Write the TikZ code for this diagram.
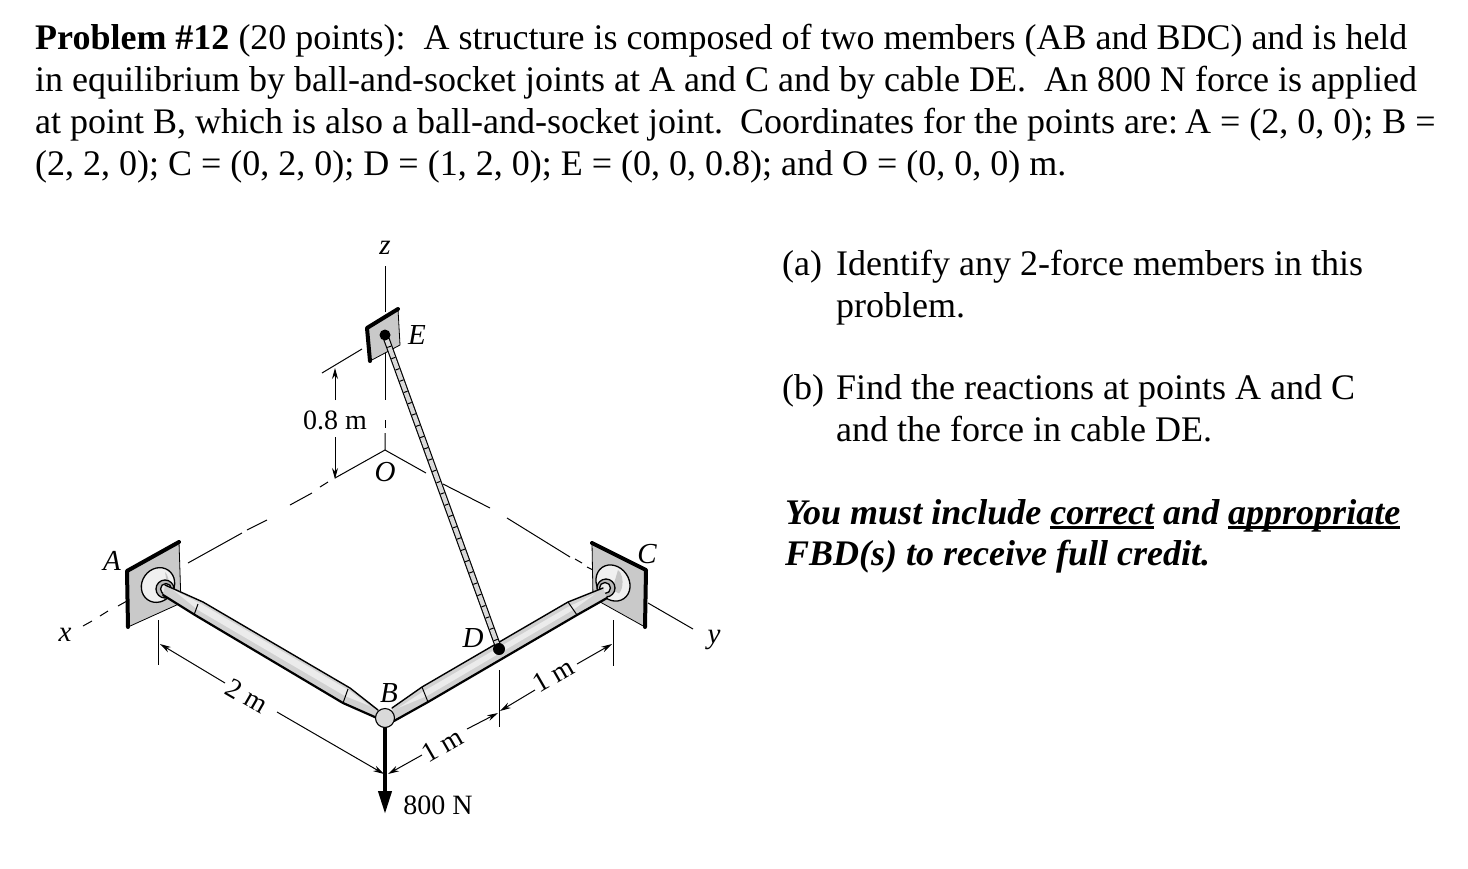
\documentclass[tikz,border=0pt]{standalone}
\usepackage{fontspec}
\setmainfont{Liberation Serif}
\usetikzlibrary{arrows.meta}
\newcommand\heavyul[1]{\leavevmode\setbox0\hbox{#1}\rlap{\rule[-5pt]{\wd0}{2.6pt}}\copy0\relax}
\tikzset{
	textline/.style={anchor=base west, inner sep=0pt, font=\fontsize{36}{42}\selectfont},
	dimlabel/.style={inner sep=0pt, font=\fontsize{28}{30}\selectfont},
	ptlabel/.style={inner sep=0pt, font=\fontsize{29}{30}\selectfont\itshape},
	thinline/.style={line width=1pt},
	dimline/.style={line width=1pt, -{Stealth[length=11pt,width=6pt]}},
	plate/.style={fill=gray!42, draw=black, line width=0.8pt, line join=round},
	plateedge/.style={line width=4pt, line cap=round, line join=round},
	rodbody/.style={fill=gray!36, draw=none},
	rodlight/.style={fill=gray!16, draw=none},
	rodtop/.style={line width=1.4pt, line cap=round},
	rodlow/.style={line width=2.2pt, line cap=round},
}
\begin{document}
\begin{tikzpicture}[x=1pt,y=-1pt]
	\useasboundingbox (0,0) rectangle (1468,868);
	\fill[white] (0,0) rectangle (1468,868);

	% problem statement
	\node[textline] (line1) at (35,49) {\textbf{Problem \#12} (20 points):\hspace{0.17em} A structure is composed of two members (AB and BDC) and is held};
	\node[textline] (line2) at (35,91) {in equilibrium by ball-and-socket joints at A and C and by cable DE.\hspace{0.25em} An 800 N force is applied};
	\node[textline] (line3) at (35,133) {at point B, which is also a ball-and-socket joint.\hspace{0.14em} Coordinates for the points are:\hspace{-5pt} A = (2, 0, 0); B =};
	\node[textline] (line4) at (35,175) {(2, 2, 0); C = (0, 2, 0); D = (1, 2, 0); E = (0, 0, 0.8); and O = (0, 0, 0) m.};

	% questions
	\node[textline] (parta) at (782,275) {(a)};
	\node[textline] (parta1) at (836,275) {Identify any 2-force members in this};
	\node[textline] (parta2) at (836,317) {problem.};
	\node[textline] (partb) at (782,399) {(b)};
	\node[textline] (partb1) at (836,399) {Find the reactions at points A and C};
	\node[textline] (partb2) at (836,441) {and the force in cable DE.};
	\node[textline] (note1) at (785,524) {\textbf{\textit{You must include \heavyul{correct} and \heavyul{appropriate}}}};
	\node[textline] (note2) at (785,565) {\textbf{\textit{FBD(s) to receive full credit.}}};

	\coordinate (O) at (385,450);
	\coordinate (A) at (165,589);
	\coordinate (B) at (385,718);
	\coordinate (C) at (605,589);
	\coordinate (D) at (499,649);
	\coordinate (E) at (385,335);
	\coordinate (load) at (385,814);

	% axes
	\draw[thinline] (385,266) -- (385,312);
	\draw[thinline] (385,350) -- (385,400);
	\draw[thinline] (385,420) -- (385,428);
	\draw[thinline] (385,433) -- (O) -- (335,478);
	\draw[thinline] (328,482) -- (320,487);
	\draw[thinline] (312,493) -- (290,505);
	\draw[thinline] (267,520) -- (247,530);
	\draw[thinline] (242,533) -- (188,563);
	\draw[thinline] (127,601) -- (118,606);
	\draw[thinline] (108,611) -- (100,616);
	\draw[thinline] (92,621) -- (83,626);
	\draw[thinline] (O) -- (426,473);
	\draw[thinline] (443,484) -- (490,508);
	\draw[thinline] (507,518) -- (570,557);
	\draw[thinline] (575,559) -- (582,563);
	\draw[thinline] (587,567) -- (593,570);
	\draw[thinline] (648,603) -- (693,629);

	% plates
	\draw[plate] (127,571) -- (179,542) -- (181,603) -- (128,627) -- cycle;
	\draw[plateedge] (128,627) -- (127,571) -- (179,542);
	\draw[plate] (592,543) -- (646,570) -- (645,627) -- (593,598) -- cycle;
	\draw[plateedge] (592,543) -- (646,570) -- (645,627);
	\draw[plate] (367,328) -- (398,309) -- (400,345) -- (370,361) -- cycle;
	\draw[plateedge] (370,361) -- (367,328) -- (398,309);

	% sockets
	\draw[fill=gray!12, line width=1.3pt, rotate around={-35:(158,585)}] (158,585) ellipse (16 and 18);
	\fill[gray!45] (165,572) arc (-70:60:6 and 13) -- (168,590) -- cycle;
	\draw[fill=gray!55, line width=1.3pt] (165,589) circle (9);
	\draw[fill=gray!15, line width=1.3pt] (166,589) circle (5.5);
	\draw[fill=gray!12, line width=1.3pt, rotate around={35:(613,583)}] (613,583) ellipse (16 and 19);
	\fill[gray!45] (618,570) arc (-70:60:7 and 13) -- (612,590) -- cycle;
	\draw[fill=gray!55, line width=1.3pt] (606,588) circle (9);
	\draw[fill=gray!15, line width=1.3pt] (605,588) circle (5.5);

	% member AB
	\fill[rodbody] (165,585) -- (203,602) -- (350,688) -- (378,710) -- (377,718) -- (343,703) -- (195,615) -- (163,595) -- cycle;
	\fill[rodlight] (172,589) -- (203,605) -- (350,691) -- (370,706) -- (345,696) -- (198,610) -- cycle;
	\draw[rodtop] (165,585) -- (203,602) -- (350,688) -- (378,710);
	\draw[rodlow] (163,595) -- (195,615) -- (343,703) -- (377,718);
	\draw[thinline] (198,604) -- (194,615);
	\draw[thinline] (348,689) -- (343,703);

	% member BDC
	\fill[rodbody] (392,708) -- (422,687) -- (568,602) -- (603,588) -- (607,598) -- (577,615) -- (428,702) -- (394,721) -- cycle;
	\fill[rodlight] (398,708) -- (424,691) -- (568,607) -- (595,594) -- (573,610) -- (427,696) -- cycle;
	\draw[rodtop] (392,708) -- (422,687) -- (568,602) -- (603,588);
	\draw[rodlow] (394,721) -- (428,702) -- (577,615) -- (607,598);
	\draw[thinline] (568,602) -- (577,615);
	\draw[thinline] (422,687) -- (428,702);

	% cable
	\draw[line width=6.5pt] (E) -- (D);
	\draw[line width=4.2pt, gray!30] (E) -- (D);
	\draw[line width=4.2pt, black, dash pattern=on 1pt off 11pt] (E) -- (D);
	\fill (E) circle (5.5);
	\fill (D) circle (6);

	% load and joint B
	\draw[line width=4pt, -{Triangle[length=23pt,width=13pt]}] (B) -- (load);
	\draw[fill=gray!30, line width=1.1pt] (B) circle (9.5);

	% dimensions
	\draw[thinline] (158,620) -- (158,665);
	\draw[thinline] (499,670) -- (499,727);
	\draw[thinline] (613,620) -- (613,666);
	\draw[thinline] (322,373) -- (362,349);
	\draw[dimline] (225,683) -- (160,644);
	\draw[dimline] (277,712) -- (384,774);
	\draw[dimline] (422,755) -- (388,774);
	\draw[dimline] (467,729) -- (498,713);
	\draw[dimline] (535,690) -- (500,711);
	\draw[dimline] (577,664) -- (612,644);
	\draw[dimline] (335,400) -- (335,368);
	\draw[dimline] (335,437) -- (335,479);

	% labels
	\node[dimlabel, rotate=-30] (ab) at (247,696) {2 m};
	\node[dimlabel, rotate=30] (bd) at (442,745) {1 m};
	\node[dimlabel, rotate=30] (dc) at (553,675) {1 m};
	\node[dimlabel] (ez) at (335,420) {0.8 m};
	\node[dimlabel] (force) at (438,805) {800 N};
	\node[ptlabel] (lblA) at (112,561) {A};
	\node[ptlabel] (lblB) at (389,693) {B};
	\node[ptlabel] (lblC) at (647,554) {C};
	\node[ptlabel] (lblD) at (473,638) {D};
	\node[ptlabel] (lblE) at (417,335) {E};
	\node[ptlabel] (lblO) at (385,472) {O};
	\node[ptlabel] (lblx) at (65,635) {x};
	\node[ptlabel] (lbly) at (714,640) {y};
	\node[ptlabel] (lblz) at (385,248) {z};
\end{tikzpicture}
\end{document}
